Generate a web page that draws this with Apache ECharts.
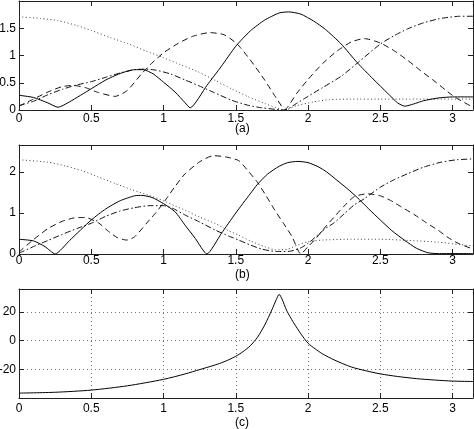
<!DOCTYPE html>
<html><head><meta charset="utf-8">
<script src="https://cdn.jsdelivr.net/npm/echarts@6/dist/echarts.min.js"></script>
<style>html,body{margin:0;padding:0;background:#fff}#c{width:474px;height:429px}</style>
</head><body><div id="c"></div>
<script>
// ---- data ----
const xTicks = [0, 0.5, 1, 1.5, 2, 2.5, 3];
const aYTicks = [0, 0.5, 1, 1.5];
const bYTicks = [0, 1, 2];
const cYTicks = [-20, 0, 20];
const panelLabels = ['(a)', '(b)', '(c)'];

const aSolid = [[0,0.27],[0.1,0.23],[0.2,0.13],[0.27,0.05],[0.35,0.15],[0.5,0.39],[0.6,0.55],[0.7,0.67],[0.8,0.74],[0.86,0.74],[0.93,0.66],[1.0,0.51],[1.08,0.33],[1.15,0.13],[1.184,0.04],[1.3,0.45],[1.4,0.8],[1.5,1.17],[1.6,1.45],[1.7,1.65],[1.8,1.78],[1.865,1.8],[1.95,1.76],[2.04,1.63],[2.12,1.48],[2.23,1.21],[2.34,0.87],[2.45,0.57],[2.55,0.31],[2.62,0.13],[2.67,0.07],[2.73,0.11],[2.8,0.17],[2.9,0.22],[3.0,0.24],[3.1416,0.24]];
const aDash = [[0,0.07],[0.1,0.2],[0.2,0.33],[0.3,0.43],[0.38,0.45],[0.46,0.41],[0.55,0.32],[0.665,0.25],[0.75,0.36],[0.85,0.67],[0.92,0.86],[1.0,1.05],[1.1,1.22],[1.2,1.35],[1.32,1.42],[1.42,1.38],[1.51,1.21],[1.6,0.92],[1.7,0.55],[1.78,0.22],[1.84,0.01],[1.92,0.3],[2.0,0.56],[2.1,0.85],[2.2,1.08],[2.3,1.25],[2.39,1.31],[2.5,1.23],[2.6,1.08],[2.69,0.91],[2.78,0.72],[2.87,0.54],[2.95,0.37],[3.02,0.23],[3.1416,0.05]];
const aDashDot = [[0,0.08],[0.1,0.16],[0.2,0.28],[0.3,0.38],[0.4,0.46],[0.5,0.52],[0.6,0.6],[0.7,0.68],[0.8,0.74],[0.88,0.75],[0.95,0.73],[1.05,0.66],[1.15,0.55],[1.24,0.45],[1.35,0.32],[1.47,0.18],[1.58,0.09],[1.68,0.04],[1.84,0.0],[1.92,0.12],[2.0,0.25],[2.1,0.41],[2.23,0.62],[2.35,0.88],[2.5,1.21],[2.6,1.37],[2.69,1.49],[2.8,1.6],[2.9,1.67],[2.97,1.7],[3.05,1.72],[3.1416,1.72]];
const aDot = [[0,1.71],[0.15,1.68],[0.27,1.64],[0.4,1.55],[0.5,1.46],[0.63,1.33],[0.76,1.21],[0.88,1.08],[0.99,0.97],[1.12,0.83],[1.24,0.7],[1.36,0.54],[1.47,0.39],[1.58,0.25],[1.7,0.12],[1.78,0.04],[1.84,0.0],[1.92,0.08],[2.04,0.15],[2.15,0.19],[2.3,0.2],[2.5,0.2],[2.7,0.2],[2.9,0.2],[3.1416,0.2]];

const bSolid = [[0,0.36],[0.1,0.32],[0.18,0.18],[0.25,0.0],[0.35,0.33],[0.5,0.83],[0.6,1.1],[0.7,1.3],[0.8,1.42],[0.85,1.43],[0.92,1.38],[1.0,1.23],[1.08,1.03],[1.15,0.7],[1.22,0.38],[1.3,0.0],[1.4,0.5],[1.5,1.0],[1.6,1.47],[1.65,1.7],[1.72,1.95],[1.8,2.14],[1.86,2.23],[1.93,2.26],[2.0,2.23],[2.07,2.13],[2.13,2.0],[2.2,1.8],[2.27,1.6],[2.34,1.38],[2.42,1.1],[2.5,0.83],[2.58,0.57],[2.67,0.33],[2.75,0.14],[2.83,0.03],[2.9,0.01],[3.1416,0.01]];
const bDash = [[0,0.05],[0.1,0.35],[0.2,0.62],[0.3,0.8],[0.38,0.88],[0.46,0.89],[0.55,0.76],[0.62,0.55],[0.68,0.4],[0.745,0.34],[0.8,0.42],[0.89,0.78],[0.95,1.02],[1.01,1.3],[1.08,1.65],[1.15,1.96],[1.25,2.25],[1.345,2.4],[1.43,2.37],[1.52,2.28],[1.58,2.05],[1.65,1.75],[1.71,1.42],[1.77,1.07],[1.83,0.75],[1.89,0.42],[1.95,0.0],[2.0,0.18],[2.05,0.36],[2.11,0.62],[2.18,0.9],[2.25,1.17],[2.32,1.4],[2.41,1.47],[2.5,1.42],[2.57,1.31],[2.65,1.14],[2.74,0.95],[2.82,0.76],[2.9,0.58],[2.97,0.4],[3.04,0.26],[3.1416,0.12]];
const bDashDot = [[0,0.02],[0.1,0.18],[0.2,0.33],[0.3,0.48],[0.4,0.62],[0.5,0.75],[0.6,0.92],[0.7,1.05],[0.8,1.13],[0.9,1.18],[1.0,1.18],[1.06,1.12],[1.15,0.95],[1.25,0.78],[1.36,0.58],[1.45,0.44],[1.52,0.34],[1.6,0.22],[1.68,0.12],[1.78,0.06],[1.88,0.07],[1.95,0.15],[2.0,0.26],[2.06,0.44],[2.12,0.62],[2.18,0.76],[2.25,0.98],[2.32,1.2],[2.39,1.35],[2.5,1.63],[2.6,1.82],[2.69,1.96],[2.8,2.12],[2.92,2.24],[3.03,2.3],[3.1416,2.32]];
const bDot = [[0,2.3],[0.2,2.24],[0.32,2.15],[0.43,2.04],[0.55,1.88],[0.665,1.72],[0.78,1.57],[0.9,1.43],[1.0,1.3],[1.08,1.17],[1.15,1.07],[1.25,0.9],[1.36,0.74],[1.45,0.57],[1.52,0.46],[1.6,0.32],[1.7,0.18],[1.78,0.1],[1.86,0.12],[1.93,0.22],[2.0,0.3],[2.1,0.34],[2.3,0.36],[2.5,0.36],[2.7,0.33],[2.9,0.29],[3.05,0.23],[3.1416,0.2]];

const cLine = [[0,-36.6],[0.25,-36],[0.5,-34.5],[0.75,-31.5],[1.0,-27],[1.15,-23.2],[1.25,-20.2],[1.35,-17.2],[1.4,-15.5],[1.45,-13.4],[1.5,-10.9],[1.55,-7.7],[1.6,-3.6],[1.65,2.3],[1.7,10.8],[1.75,21.5],[1.78,28.5],[1.8,32.3],[1.82,29],[1.85,21.5],[1.875,16.8],[1.9,12.5],[1.95,4.8],[2.0,-1.8],[2.05,-5.8],[2.1,-9.2],[2.18,-13.4],[2.3,-18.4],[2.4,-21],[2.5,-23.2],[2.62,-25],[2.75,-26.5],[2.88,-27.5],[3.0,-28.2],[3.1416,-28.5]];

// ---- layout / styles ----
const FONT = 'Liberation Sans, Arial, sans-serif';
const grids = [
  {left: 19, width: 454, top: 1, height: 109},
  {left: 19, width: 454, top: 145, height: 109},
  {left: 19, width: 454, top: 289, height: 109}
].map(g => Object.assign(g, {containLabel: false, outerBoundsMode: 'none'}));
const yCfg = [
  {min: 0, max: 2, interval: 0.5, ticks: aYTicks, grid: false},
  {min: 0, max: 2.66, interval: 1, ticks: bYTicks, grid: false},
  {min: -40, max: 36, interval: 20, ticks: cYTicks, grid: true}
];
const xLabelMargin = [3, 1, 5];
const lineCol = '#222';
const gridLine = {show: true, lineStyle: {color: '#777', type: [1, 3], width: 1}};

function inTicks(v, ticks) { return ticks.some(t => Math.abs(t - v) < 1e-9); }

const xAxis = [], yAxis = [];
grids.forEach((g, i) => {
  const base = {
    type: 'value', gridIndex: i, min: 0, max: Math.PI, interval: 0.5,
    axisLine: {show: true, onZero: false, lineStyle: {color: lineCol, width: 1}},
    axisTick: {show: true, inside: true, length: 5, lineStyle: {color: lineCol}},
    splitLine: yCfg[i].grid ? gridLine : {show: false}
  };
  xAxis.push(Object.assign({}, base, {
    position: 'bottom',
    axisLabel: {show: true, margin: xLabelMargin[i], color: '#000', fontSize: 12, fontFamily: FONT,
      showMaxLabel: false, formatter: v => inTicks(v, xTicks) ? String(v) : ''}
  }));
  xAxis.push(Object.assign({}, base, {position: 'top', axisLabel: {show: false}, splitLine: {show: false}}));
  const yb = {
    type: 'value', gridIndex: i, min: yCfg[i].min, max: yCfg[i].max, interval: yCfg[i].interval,
    axisLine: {show: true, onZero: false, lineStyle: {color: lineCol, width: 1}},
    axisTick: {show: true, inside: true, length: 5, lineStyle: {color: lineCol}},
    splitLine: yCfg[i].grid ? gridLine : {show: false}
  };
  const tk = yCfg[i].ticks;
  yAxis.push(Object.assign({}, yb, {
    position: 'left',
    axisLabel: {show: true, margin: 3, color: '#000', fontSize: 12, fontFamily: FONT,
      showMaxLabel: false, showMinLabel: true, formatter: v => inTicks(v, tk) ? String(v) : ''}
  }));
  yAxis.push(Object.assign({}, yb, {position: 'right', axisLabel: {show: false}, splitLine: {show: false}}));
});

const styles = {
  solid: {color: '#000', width: 1, type: 'solid'},
  dash: {color: '#111', width: 1, type: [6, 4]},
  dashdot: {color: '#111', width: 1, type: [6, 2.5, 1.5, 2.5]},
  dot: {color: '#444', width: 1, type: [1, 2.5]}
};
function mk(data, gi, st, smooth) {
  return {type: 'line', data: data, xAxisIndex: gi * 2, yAxisIndex: gi * 2, showSymbol: false,
    symbol: 'none', smooth: smooth, lineStyle: styles[st], silent: true, animation: false, z: 3};
}
const series = [
  mk(aDot, 0, 'dot', 0.2), mk(aDashDot, 0, 'dashdot', 0.2), mk(aDash, 0, 'dash', 0.2), mk(aSolid, 0, 'solid', 0.2),
  mk(bDot, 1, 'dot', 0.2), mk(bDashDot, 1, 'dashdot', 0.2), mk(bDash, 1, 'dash', 0.2), mk(bSolid, 1, 'solid', 0.2),
  mk(cLine, 2, 'solid', 0.25)
];
const labelY = [130, 276, 424];
const graphic = panelLabels.map((t, i) => ({
  type: 'text', left: 235, top: labelY[i] - 7,
  style: {text: t, fill: '#000', font: '12px ' + FONT}
}));

const chart = echarts.init(document.getElementById('c'), null, {renderer: 'canvas'});
chart.setOption({animation: false, grid: grids, xAxis: xAxis, yAxis: yAxis, series: series, graphic: graphic});
</script></body></html>
